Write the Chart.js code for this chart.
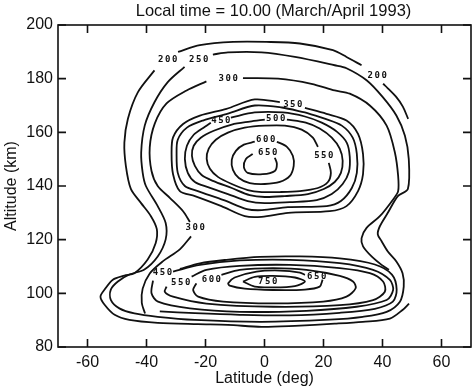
<!DOCTYPE html>
<html>
<head>
<meta charset="utf-8">
<script src="https://cdn.jsdelivr.net/npm/chart.js@4.4.1/dist/chart.umd.min.js"></script>
<style>
html,body{margin:0;padding:0;background:#fff;}
canvas{display:block;}
</style>
</head>
<body>
<canvas id="c" width="474" height="390"></canvas>
<script>
// ---- text ----
const titleText = 'Local time = 10.00 (March/April 1993)';
const xTitle = 'Latitude (deg)';
const yTitle = 'Altitude (km)';
const xTicks = [-60, -40, -20, 0, 20, 40, 60];
const yTicks = [80, 100, 120, 140, 160, 180, 200];
const xRange = [-70, 70];
const yRange = [80, 200];

// ---- contour lines [latitude (deg), altitude (km)] ----
const c200_east = [[48.7,165.0],[46.9,169.6],[44.7,173.1],[41.8,176.4],[40.2,178.1]];
const c200_top = [[32.9,185],[27.8,188.1],[23.2,190.6],[12.0,193.1],[0.7,193.7],[-10.6,193.7],[-21.9,192.5],[-29.3,190.0]];
const c200_main = [[-37.3,183.1],[-42.9,175.0],[-46.3,165.1],[-47.5,156.2],[-47.0,147.5],[-45.3,138.9],[-41.9,133.7],[-38.5,128.75],[-36.5,123.9],[-36.9,118.7],[-39.6,112.6],[-44.1,107.5],[-47.5,106.6],[-51.4,105.1],[-54.2,101.4],[-55.6,98.75],[-54.2,95.75],[-50.8,92.0],[-45.8,90.1],[-36.2,89.0],[-22.6,88.5],[-12.4,88.25],[-1.0,87.5],[10.3,87.9],[23.8,88.7],[33.3,89.4],[42.5,90.6],[46.9,93.9],[49.0,96.2]];
const c250 = [[-17.5,189.0],[-12.4,189.8],[-1.0,189.8],[10.3,188.1],[23.8,185],[27.8,183.9],[34.6,179.4],[40.1,173.1],[44.7,166.25],[47.6,158.75],[48.9,150.1],[48.6,138.9],[45.2,136.25],[41.8,130.0],[39.1,125],[38.4,122.0],[39.7,119.4],[41.8,115.6],[44.7,111.9],[46.8,107.5],[47.2,102.5],[45.9,96.9],[41.4,93.1],[33.3,91.25],[22.1,90.2],[-1.0,89.4],[-23.6,90.1],[-36.2,91.25],[-44.1,92.5],[-49.2,94.4],[-52.1,97.6],[-52.1,101.4],[-49.7,104.4],[-45.8,107.0],[-40.7,108.9],[-36.2,113.75],[-33.5,120.1],[-33.5,126.2],[-36.2,132.5],[-40.2,140.0],[-41.3,145.0],[-41.8,152.5],[-40.6,162.5],[-37.3,171.2],[-32.8,178.7],[-27.1,184.4]];
const c300_east = [[-7.3,180.2],[4.6,180.0],[15.9,178.1],[23.8,175.6],[28.9,174.4],[35.7,170],[41.4,162.5],[44.2,152.5],[45.3,143.75],[45.3,138.1],[43.6,135.0],[39.1,128.75],[34.6,124.4],[32.9,120.6],[33.4,117.5],[36.3,113.75],[39.7,110.6],[42.2,108.8]];
const c300_westUp = [[-19.7,179.0],[-26.4,175.6],[-33.2,170.75],[-37.2,163.25],[-38.9,154.4],[-38.3,145.6],[-36.2,140.0],[-32.1,135.6],[-27.6,130.6],[-25.3,126.6]];
const c300_westLow = [[-24.9,121.25],[-28.7,116.4],[-34.5,111.9],[-38.9,107.4],[-41.3,101.75],[-41.6,96.5],[-40.5,92.5]];
const c350_up = [[13.7,169.1],[21.0,166.9],[27.8,164.4],[31.7,159.4],[33.4,151.9],[33.4,144.4],[31.7,138.1],[27.8,132.5],[22.1,130.6],[8.0,130.0],[-1.0,128.5],[-6.7,128.75],[-14.6,132.5],[-23.6,136.25],[-28.7,138.1],[-31.0,144.4],[-31.5,151.9],[-31.0,158.1],[-27.6,163.1],[-21.9,166.25],[-12.9,168.75],[-3.3,172.25],[5.2,171.25]];
const c400_up = [[13.7,167.4],[20.4,165.1],[26.2,162.5],[29.9,158.0],[31.3,152.0],[31.3,144.9],[29.6,139.25],[25.9,134.4],[21.1,132.5],[7.9,132.1],[-0.9,131.0],[-6.0,131.4],[-13.8,134.75],[-22.6,138.1],[-27.0,140.0],[-29.4,144.9],[-29.8,152.0],[-29.4,157.25],[-26.3,161.75],[-20.9,164.4],[-12.4,167.0],[-3.3,170.0],[5.9,169.25],[13.7,167.4]];
const c450_up = [[-11.4,165.5],[-3.3,167.4],[6.2,167.4],[13.7,165.9],[19.4,163.6],[24.5,160.25],[27.9,156.1],[28.9,150.9],[28.6,145.25],[26.5,140.75],[22.8,137.0],[17.7,134.75],[8.6,134.0],[0.1,133.6],[-5.7,134.4],[-12.4,137.0],[-19.2,139.6],[-23.6,141.5],[-26.0,144.9],[-27.0,150.1],[-26.3,155.0],[-24.0,159.1],[-20.2,162.1],[-18.2,163.6]];
const c500_up = [[7.6,164.75],[14.0,163.6],[18.7,161.4],[22.8,158.0],[25.5,153.9],[26.5,149.4],[25.9,144.9],[23.8,141.5],[20.1,138.9],[14.7,137.0],[6.9,136.25],[0.1,135.9],[-5.0,136.6],[-11.1,139.25],[-17.5,141.9],[-21.3,144.1],[-23.6,147.5],[-24.6,151.25],[-24.0,155.0],[-21.6,158.0],[-17.2,160.6],[-11.1,162.9],[-5.0,164.0],[0.1,164.75]];
const c550_up = [[21.8,148.6],[22.5,144.9],[21.5,141.5],[18.1,139.25],[12.0,138.1],[5.2,137.75],[-0.9,137.75],[-5.7,138.5],[-11.1,140.75],[-15.8,143.4],[-18.5,146.4],[-19.6,150.1],[-18.9,153.9],[-16.5,157.25],[-12.4,159.9],[-6.7,161.75],[0.1,162.5],[6.9,162.5],[12.6,161.0],[16.4,158.0],[18.1,154.6]];
const c600_up = [[4.2,156.5],[7.6,154.6],[9.6,151.25],[9.9,147.5],[8.6,143.75],[5.2,141.5],[0.1,140.75],[-5.0,141.1],[-8.7,143.0],[-10.7,146.0],[-11.1,149.75],[-9.7,153.1],[-7.0,155.4],[-3.3,156.5]];
const c650_up = [[3.5,150.5],[4.2,148.25],[3.5,145.6],[-0.6,144.4],[-5.7,144.9],[-7.0,147.1],[-6.3,150.1],[-4.0,151.9]];
const c400_low = [[-28.7,109.1],[-21.9,111.2],[-12.9,112.5],[-1.6,113.6],[12.0,113.75],[25.5,113.0],[37.4,110.75],[43.2,107.0],[44.8,101.4],[43.5,96.9],[37.4,94.25],[25.5,92.75],[8.6,91.8],[-8.4,92.0],[-23.6,92.6],[-35.5,93.3]];
const c450_low = [[-37.8,104.75],[-38.3,100.0],[-36.1,96.9],[-25.3,94.4],[-8.4,93.1],[14.2,93.5],[31.2,95.0],[41.4,97.5],[43.6,101.25],[42.5,105.0],[36.8,108.75],[25.5,111.25],[8.6,112.5],[-8.4,112.25],[-21.9,110.6],[-31.0,108.1]];
const c550_low = [[-33.2,102.5],[-33.8,100.6],[-31.0,98.75],[-19.7,96.2],[2.9,95.0],[25.5,95.6],[36.8,97.5],[40.8,100.6],[40.2,104.4],[35.7,107.5],[25.5,109.4],[8.6,110.6],[-8.4,110.25],[-19.7,108.75],[-24.7,106.25]];
const c600_low = [[-23.1,103.75],[-24.2,101.25],[-22.5,98.75],[-14.0,96.9],[2.9,96.25],[19.9,96.9],[27.8,98.75],[30.9,101.9],[30.0,104.4],[25.5,106.5],[14.2,108.75],[2.9,109.4],[-8.4,108.75],[-14.6,106.9]];
const c650_low = [[19.7,105.1],[18.7,102.5],[13.7,101.4],[2.8,101.25],[-6.7,101.75],[-11.8,102.9],[-12.3,103.75],[-10.1,105.9],[-2.7,108.1],[5.2,108.5],[12.0,107.75],[13.7,106.9]];
const c750_low = [[-7.3,104.4],[-3.3,106.1],[2.8,106.5],[10.3,105.9],[13.7,104.4],[10.3,102.7],[2.8,102.2],[-3.3,102.5],[-7.3,104.4]];

// ---- contour labels: [text, latitude, altitude] ----
const contourLabels = [
  ['200', -32.8, 186.9], ['250', -22.3, 186.9], ['200', 38.2, 181.25],
  ['300', -12.3, 180.1], ['350', 9.6, 170.4], ['500', 3.8, 165.0],
  ['450', -14.8, 164.4], ['600', 0.4, 157.1], ['650', 1.1, 152.6],
  ['550', 20.1, 151.25], ['300', -23.5, 124.4], ['450', -34.6, 107.6],
  ['550', -28.4, 103.8], ['600', -18.0, 105.1], ['750', 1.1, 104.4],
  ['650', 17.7, 106.1]
];

const segments = [c200_east, c200_top, c200_main, c250, c300_east, c300_westUp, c300_westLow,
  c350_up, c400_up, c450_up, c500_up, c550_up, c600_up, c650_up,
  c400_low, c450_low, c550_low, c600_low, c650_low, c750_low];

const datasets = segments.map(seg => ({
  data: seg.map(p => ({x: p[0], y: p[1]})),
  showLine: true,
  borderColor: '#111',
  borderWidth: 1.8,
  pointRadius: 0,
  tension: 0.3,
  fill: false
}));

const FONT = "'Liberation Sans', Arial, Helvetica, sans-serif";

const framePlugin = {
  id: 'frame',
  afterDatasetsDraw(chart) {
    const {ctx, chartArea: a, scales: {x, y}} = chart;
    ctx.save();
    ctx.strokeStyle = '#111';
    ctx.lineWidth = 1.6;
    ctx.strokeRect(a.left, a.top, a.right - a.left, a.bottom - a.top);
    const tl = 8;
    ctx.beginPath();
    xTicks.forEach(v => {
      const px = x.getPixelForValue(v);
      ctx.moveTo(px, a.bottom); ctx.lineTo(px, a.bottom - tl);
      ctx.moveTo(px, a.top); ctx.lineTo(px, a.top + tl);
    });
    yTicks.forEach(v => {
      const py = y.getPixelForValue(v);
      ctx.moveTo(a.left, py); ctx.lineTo(a.left + tl, py);
      ctx.moveTo(a.right, py); ctx.lineTo(a.right - tl, py);
    });
    ctx.stroke();
    // contour labels
    ctx.fillStyle = '#111';
    ctx.font = "bold 9px 'DejaVu Sans Mono', monospace";
    ctx.textAlign = 'center';
    ctx.textBaseline = 'middle';
    try { ctx.letterSpacing = '1.5px'; } catch (e) {}
    contourLabels.forEach(([t, lat, alt]) => {
      ctx.fillText(t, x.getPixelForValue(lat) + 0.75, y.getPixelForValue(alt));
    });
    try { ctx.letterSpacing = '0px'; } catch (e) {}
    // title
    ctx.font = '16.5px ' + FONT;
    ctx.textAlign = 'center';
    ctx.textBaseline = 'middle';
    ctx.fillText(titleText, (a.left + a.right) / 2 + 9, 11);
    ctx.restore();
  }
};

new Chart(document.getElementById('c'), {
  type: 'scatter',
  data: {datasets},
  plugins: [framePlugin],
  options: {
    responsive: false,
    animation: false,
    events: [],
    layout: {padding: {top: 25, right: 3, left: 0, bottom: 0}},
    plugins: {legend: {display: false}, tooltip: {enabled: false}, title: {display: false}},
    scales: {
      x: {
        type: 'linear', min: xRange[0], max: xRange[1],
        afterBuildTicks: s => { s.ticks = xTicks.map(v => ({value: v})); },
        afterFit: s => { s.height = 43; },
        grid: {display: false, drawTicks: false, tickLength: 0},
        border: {display: false},
        ticks: {color: '#111', padding: 6, font: {family: FONT, size: 16}, maxRotation: 0, autoSkip: false},
        title: {display: true, text: xTitle, color: '#111', font: {family: FONT, size: 16}, padding: {top: 0, bottom: 2}}
      },
      y: {
        type: 'linear', min: yRange[0], max: yRange[1],
        afterBuildTicks: s => { s.ticks = yTicks.map(v => ({value: v})); },
        afterFit: s => { s.width = 58; },
        grid: {display: false, drawTicks: false, tickLength: 0},
        border: {display: false},
        ticks: {color: '#111', padding: 5, font: {family: FONT, size: 16}, autoSkip: false},
        title: {display: true, text: yTitle, color: '#111', font: {family: FONT, size: 16}, padding: {top: 2, bottom: 0}}
      }
    }
  }
});
</script>
</body>
</html>
